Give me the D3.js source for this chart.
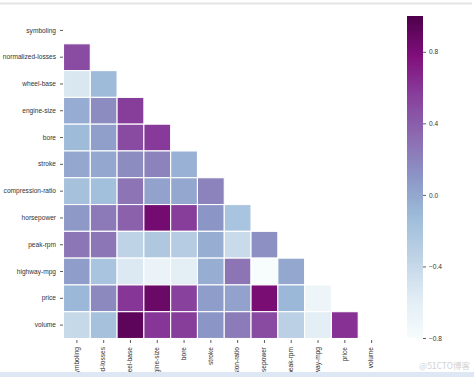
<!DOCTYPE html>
<html><head><meta charset="utf-8">
<script src="https://cdn.jsdelivr.net/npm/d3@7"></script>
<style>html,body{margin:0;padding:0;background:#fff;overflow:hidden}svg{display:block}</style>
</head><body>
<svg id="c" width="474" height="377"></svg>
<script>
const variables = ["symboling","normalized-losses","wheel-base","engine-size","bore","stroke","compression-ratio","horsepower","peak-rpm","highway-mpg","price","volume"];
// lower-triangle correlation rows (row i has i values, columns 0..i-1)
const corrRows = [
  [],
  [0.49],
  [-0.53, -0.12],
  [-0.03, 0.15, 0.57],
  [-0.12, 0.05, 0.50, 0.58],
  [0.00, 0.00, 0.15, 0.20, -0.06],
  [-0.17, -0.15, 0.28, 0.03, 0.00, 0.20],
  [0.08, 0.25, 0.38, 0.83, 0.57, 0.10, -0.20],
  [0.27, 0.27, -0.35, -0.24, -0.28, -0.04, -0.42, 0.13],
  [0.06, -0.20, -0.55, -0.68, -0.60, -0.04, 0.28, -0.80, 0.00],
  [-0.10, 0.17, 0.60, 0.87, 0.55, 0.06, 0.03, 0.81, -0.10, -0.70],
  [-0.40, -0.17, 0.93, 0.60, 0.57, 0.10, 0.24, 0.50, -0.32, -0.60, 0.62]
];
const colorbarTicks = [-0.8, -0.4, 0.0, 0.4, 0.8];
const colorDomain = [-0.8, 1.0];
const bupu = ["#f7fcfd","#e0ecf4","#bfd3e6","#9ebcda","#8c96c6","#8c6bb1","#88419d","#810f7c","#4d004b"];

const svg = d3.select("#c");
const font = "'Liberation Sans', Arial, sans-serif";

// top grey rule
svg.append("rect").attr("x",0).attr("y",2.5).attr("width",472).attr("height",2).attr("fill","#e4e4e4");

const x = d3.scaleBand().domain(variables).range([63.5, 385]);
const y = d3.scaleBand().domain(variables).range([17, 338.5]);
const tStops = d3.range(bupu.length).map(i => colorDomain[0] + (colorDomain[1]-colorDomain[0]) * i/(bupu.length-1));
const color = d3.scaleLinear().domain(tStops).range(bupu).interpolate(d3.interpolateRgb).clamp(true);

const cells = [];
corrRows.forEach((row, i) => row.forEach((v, j) => cells.push({r: variables[i], c: variables[j], v})));

svg.append("g").selectAll("rect").data(cells).join("rect")
  .attr("x", d => x(d.c)).attr("y", d => y(d.r))
  .attr("width", x.bandwidth()).attr("height", y.bandwidth())
  .attr("fill", d => color(d.v))
  .attr("stroke", "#fff").attr("stroke-width", 1.1);

// y axis
const yAxis = svg.append("g").attr("transform","translate(63,0)")
  .call(d3.axisLeft(y).tickSize(3).tickPadding(4));
yAxis.select(".domain").remove();
yAxis.selectAll("line").attr("stroke","#333").attr("stroke-width",0.8);
yAxis.selectAll("text").attr("font-family",font).attr("font-size","6.6px").attr("fill","#333");

// x axis
const xAxis = svg.append("g").attr("transform","translate(0,340)")
  .call(d3.axisBottom(x).tickSize(3).tickPadding(4));
xAxis.select(".domain").remove();
xAxis.selectAll("line").attr("stroke","#333").attr("stroke-width",0.8);
xAxis.selectAll("text").attr("font-family",font).attr("font-size","6.6px").attr("fill","#333")
  .attr("text-anchor","end").attr("dy",null).attr("y",0)
  .attr("transform","translate(0,7) rotate(-90)").attr("dominant-baseline","middle");

// colorbar
const cb = d3.scaleLinear().domain(colorDomain).range([338, 16]);
const cbg = svg.append("g");
const steps = d3.range(0, 322);
cbg.selectAll("rect").data(steps).join("rect")
  .attr("x", 407).attr("width", 16)
  .attr("y", d => 16 + d).attr("height", 1.2)
  .attr("fill", d => color(cb.invert(16 + d + 0.5)));
const cAxis = svg.append("g").attr("transform","translate(423,0)")
  .call(d3.axisRight(cb).tickValues(colorbarTicks).tickSize(3).tickPadding(3).tickFormat(d3.format(".1f")));
cAxis.select(".domain").remove();
cAxis.selectAll("line").attr("stroke","#333").attr("stroke-width",0.8);
cAxis.selectAll("text").attr("font-family",font).attr("font-size","6.6px").attr("fill","#333");

// bottom band (window chrome)
svg.append("rect").attr("x",0).attr("y",372).attr("width",474).attr("height",5).attr("fill","#dde8f4");
svg.append("text").attr("x",470).attr("y",369).attr("text-anchor","end")
  .attr("font-family","'Noto Sans CJK SC', sans-serif").attr("font-size","8.5px").attr("fill","#d2d2d2").text("@51CTO博客");
</script>
</body></html>
